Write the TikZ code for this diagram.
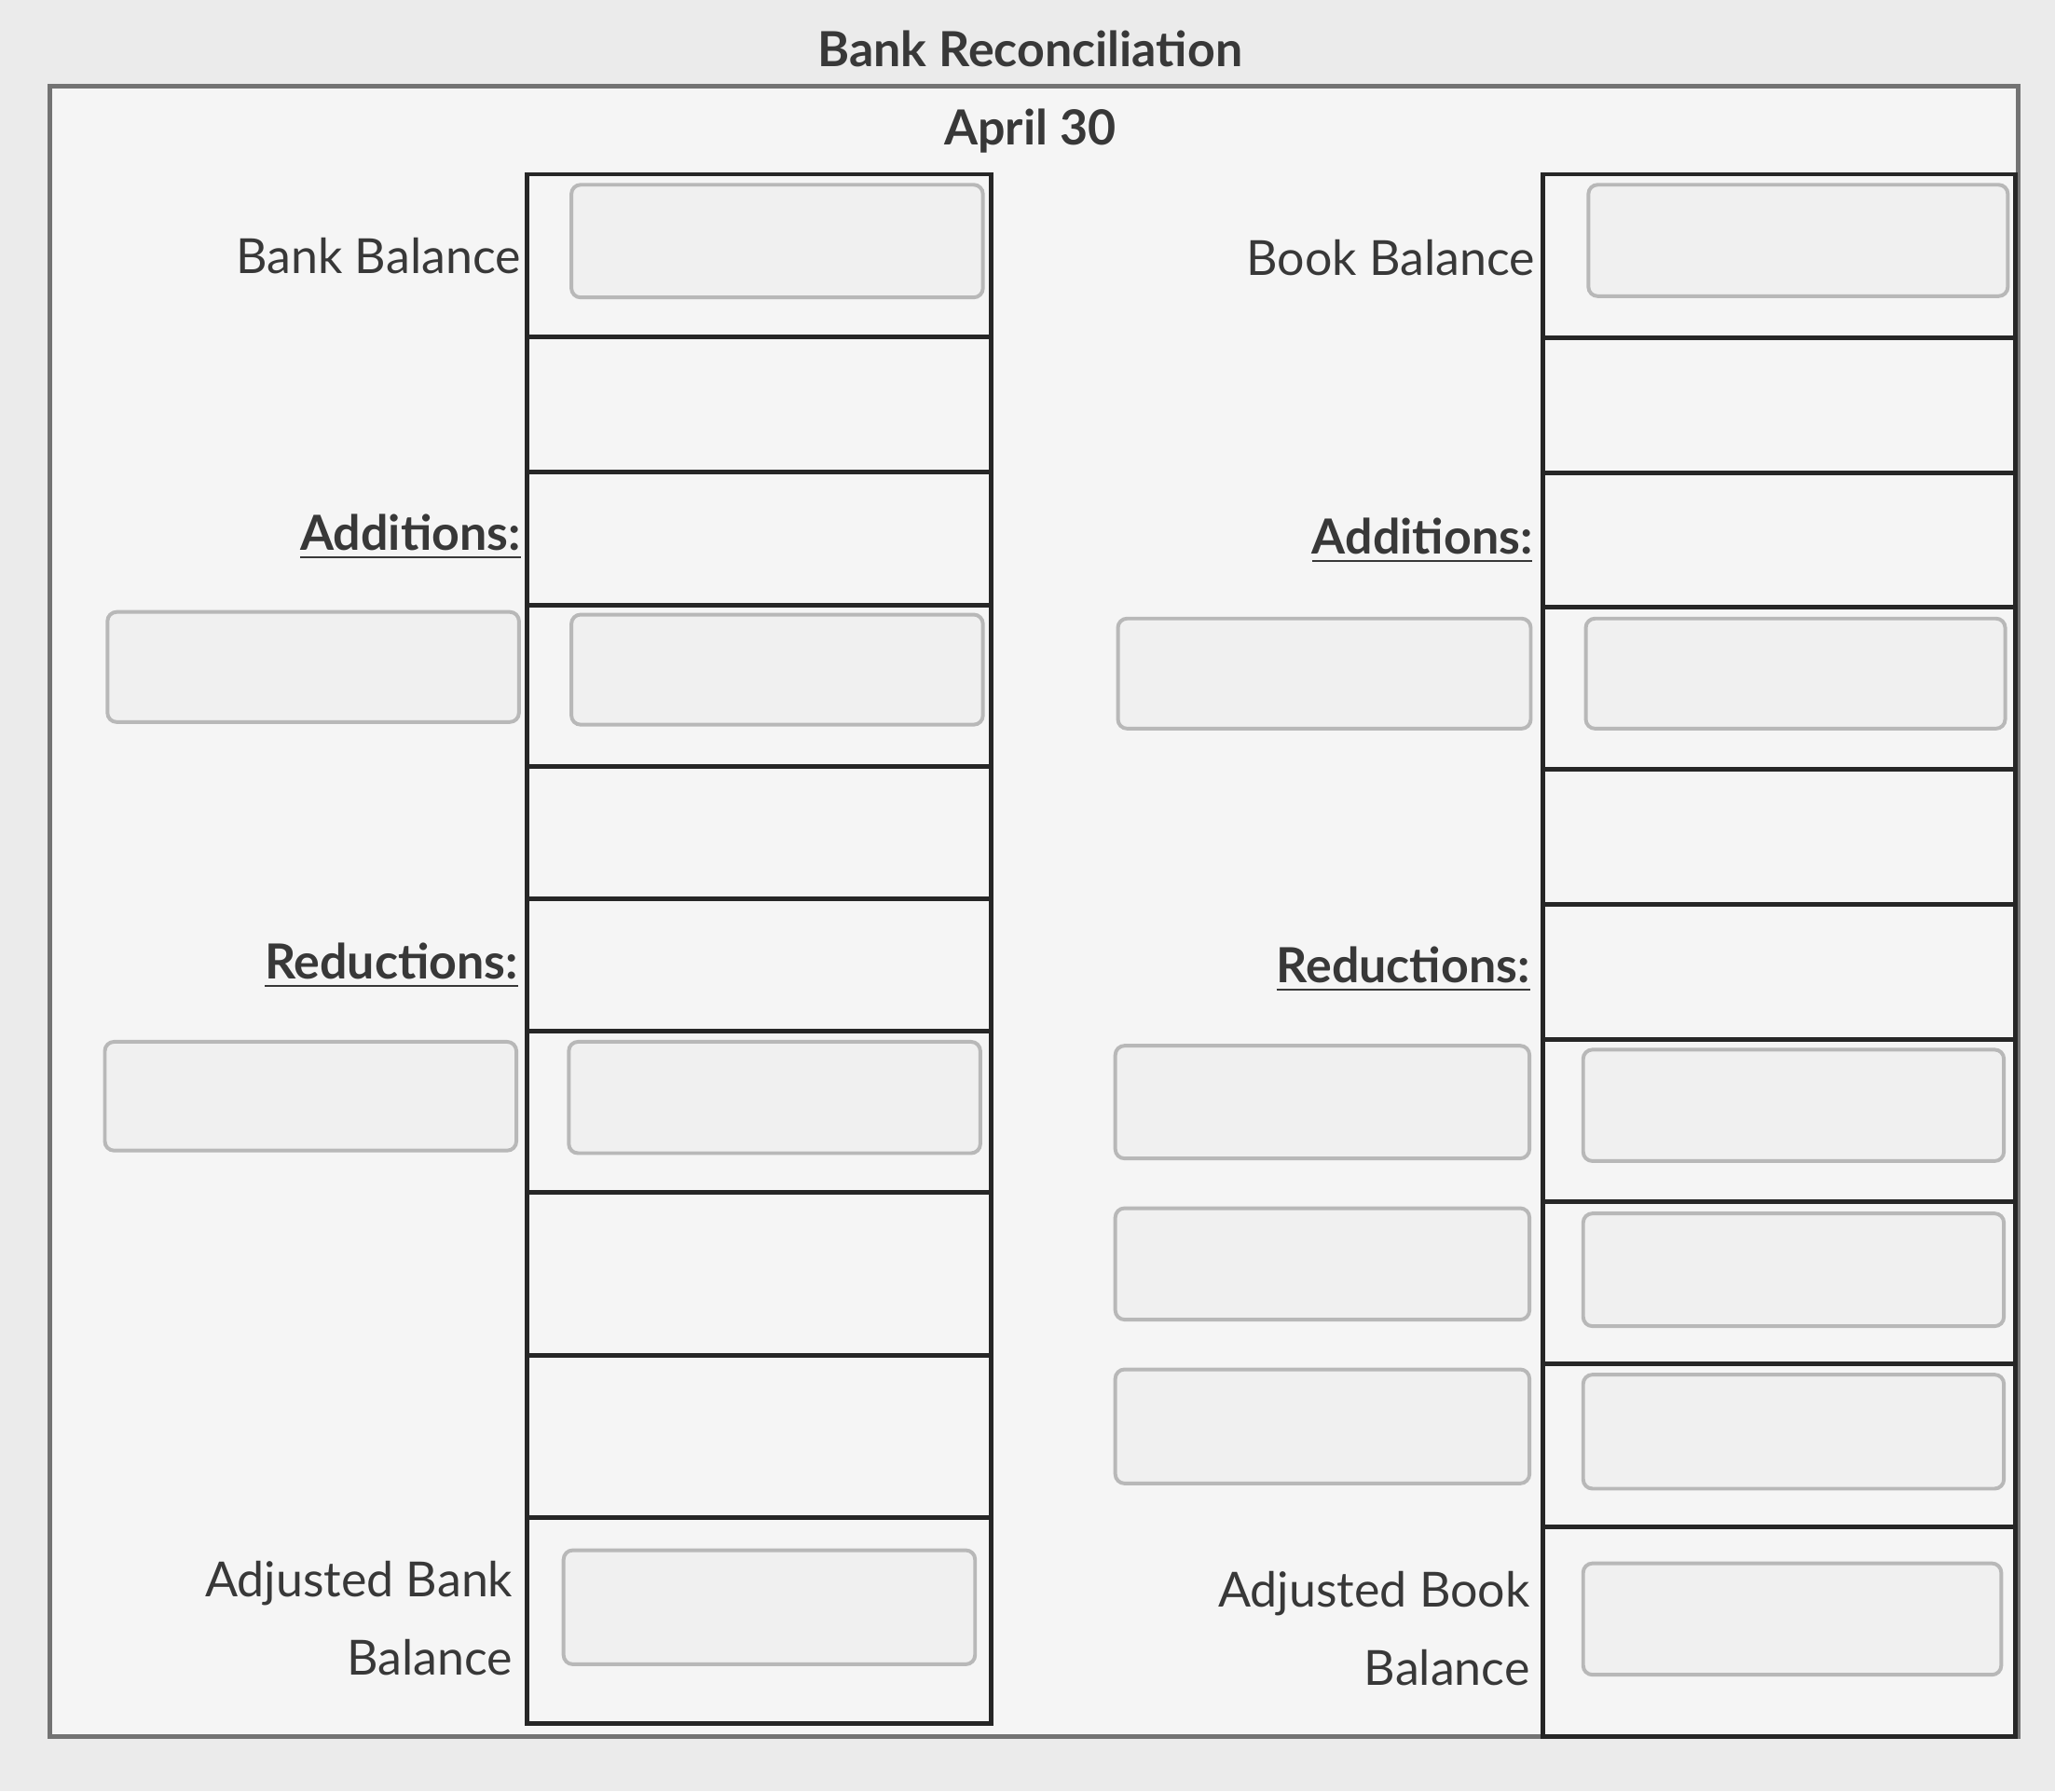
\documentclass[tikz,border=0pt]{standalone}
\usepackage{fontspec}
\setmainfont{Lato}
\begin{document}
\begin{tikzpicture}[x=0.01cm,y=-0.01cm,
  inbox/.style={draw=black!28,fill=black!6,rounded corners=2pt,line width=0.8pt},
  lbl/.style={font=\fontsize{10.5}{17}\selectfont,text=black!78,anchor=east,inner sep=0pt,align=right},
  hd/.style={font=\bfseries\fontsize{10.5}{17}\selectfont,text=black!78,anchor=east,inner sep=0pt},
  cell/.style={draw=black!85,line width=1pt}]
\fill[black!8] (0,0) rectangle (1568,1367);
\useasboundingbox (0,0) rectangle (1568,1367);
\fill[black!4] (38,66) rectangle (1540,1325);
\draw[black!55,line width=1pt] (38,66) rectangle (1540,1325);
\node[font=\bfseries\fontsize{10.5}{17}\selectfont,text=black!78] (t) at (786,37) {Bank Reconciliation};
\node[font=\bfseries\fontsize{10.5}{17}\selectfont,text=black!78] (d) at (786,100) {April 30};
% left column
\draw[cell] (402,133) rectangle (756,1315);
\foreach \y in {257,360,462,585,686,787,910,1034,1158} \draw[cell] (402,\y) -- (756,\y);
% right column
\draw[cell] (1177,133) rectangle (1538,1325);
\foreach \y in {258,361,463,587,690,793,917,1041,1165} \draw[cell] (1177,\y) -- (1538,\y);
% input boxes
\foreach \a/\b/\c/\d in {436/141/750/227, 436/469/750/553, 434/795/748/880, 430/1183/744/1270,
  82/467/396/551, 80/795/394/878,
  1212/141/1532/226, 1210/472/1530/556, 1208/801/1529/886, 1208/926/1529/1012, 1208/1049/1529/1136, 1208/1193/1527/1278,
  853/472/1168/556, 851/798/1167/884, 851/922/1167/1007, 851/1045/1167/1132}
  \draw[inbox] (\a,\b) rectangle (\c,\d);
% labels
\node[lbl] (bb) at (398,195) {Bank Balance};
\node[hd] (ad1) at (398,410) {\underline{Additions:}};
\node[hd] (rd1) at (396,737) {\underline{Reductions:}};
\node[lbl] (abb) at (392,1235) {Adjusted Bank\\Balance};
\node[lbl] (kb) at (1172,197) {Book Balance};
\node[hd] (ad2) at (1170,413) {\underline{Additions:}};
\node[hd] (rd2) at (1168,740) {\underline{Reductions:}};
\node[lbl] (akb) at (1168,1243) {Adjusted Book\\Balance};
\end{tikzpicture}
\end{document}
